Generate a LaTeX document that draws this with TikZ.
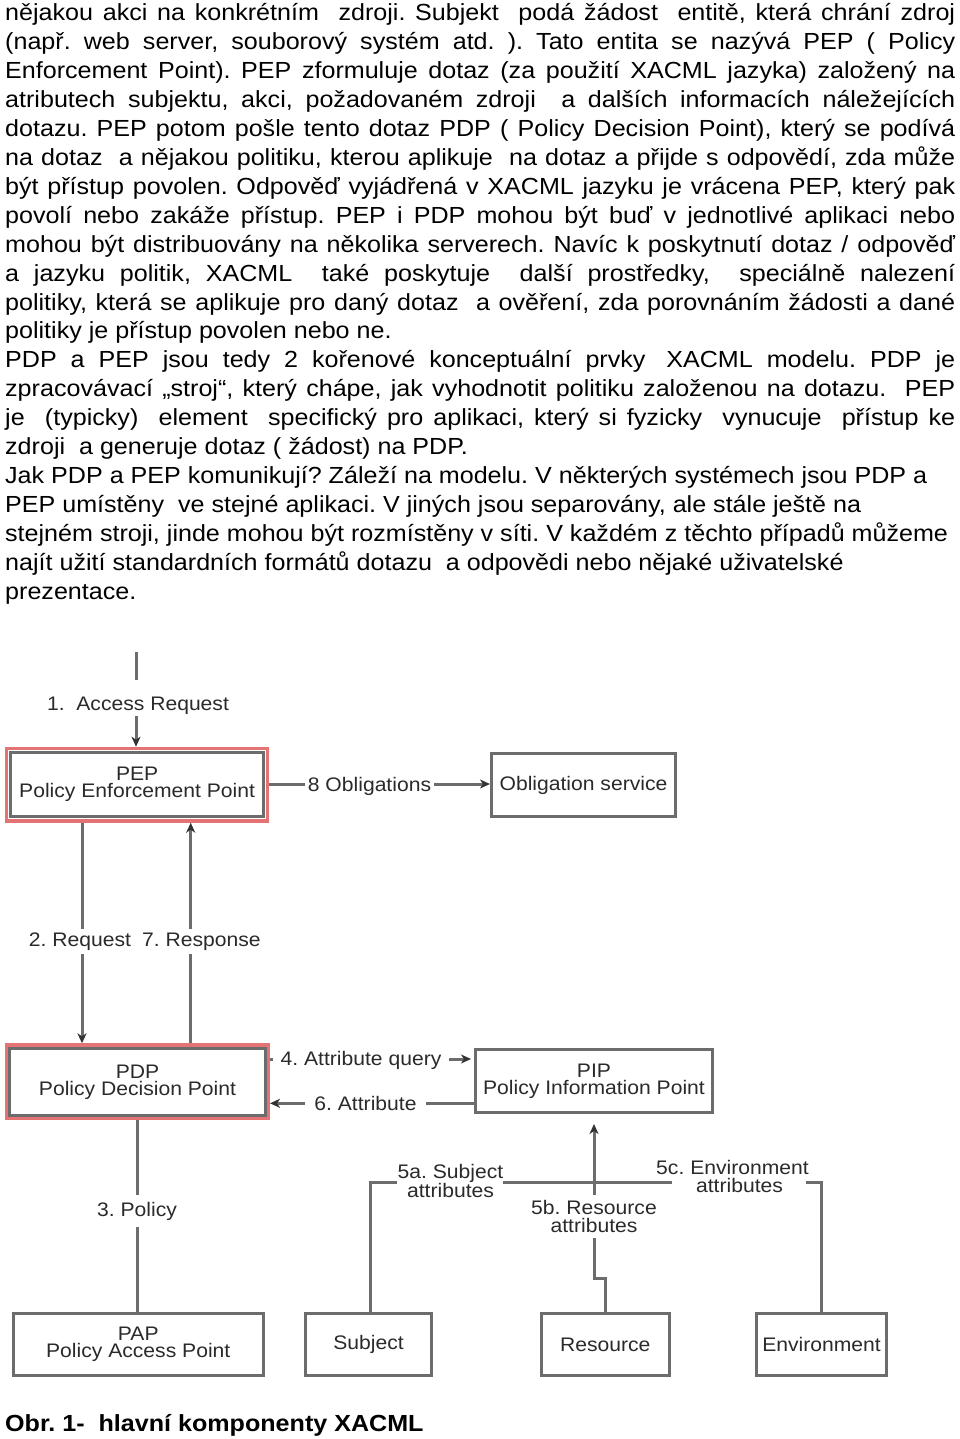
\documentclass[tikz,border=0pt]{standalone}
\usepackage{fontspec}
\setmainfont{Liberation Sans}[FakeStretch=1.077]
\usetikzlibrary{arrows.meta}
\definecolor{redframe}{HTML}{E57373}
\definecolor{boxgray}{HTML}{6C6C6C}
\definecolor{lblgray}{HTML}{2A2A2A}
\frenchspacing
\tikzset{
  para/.style={anchor=base west, inner sep=0pt, font=\fontsize{23.3}{28.95}\selectfont},
  box/.style={draw=boxgray, line width=3pt, fill=white, align=center, text=lblgray,
    font=\fontsize{19.6}{17}\selectfont, inner sep=0pt, minimum height=63},
  outerred/.style={draw=redframe, line width=3.3pt, inner sep=0pt},
  ln/.style={draw=boxgray, line width=3pt},
  arr/.style={ln, -{Stealth[length=10pt,width=9pt,inset=3pt,color=black!80]}},
  lbl/.style={fill=white, text=lblgray, font=\fontsize{19.6}{18}\selectfont, anchor=base,
    inner ysep=3pt, inner xsep=2pt},
  mlbl/.style={text=lblgray, font=\fontsize{19.6}{18}\selectfont, align=center, inner sep=0pt},
}
\begin{document}
\begin{tikzpicture}[x=1pt,y=-1pt]
\fill[white] (0,0) rectangle (960,1439);
\useasboundingbox (0,0) rectangle (960,1439);

% ---------- paragraph text ----------
\node[para] (l1) at (5,20.5) {\makebox[950pt][s]{nějakou akci na konkrétním\ \ zdroji. Subjekt\ \ podá žádost\ \ entitě, která chrání zdroj}};
\node[para] (l2) at (5,49.45) {\makebox[950pt][s]{(např. web server, souborový systém atd. ). Tato entita se nazývá PEP ( Policy}};
\node[para] (l3) at (5,78.4) {\makebox[950pt][s]{Enforcement Point). PEP zformuluje dotaz (za použití XACML jazyka) založený na}};
\node[para] (l4) at (5,107.35) {\makebox[950pt][s]{atributech subjektu, akci, požadovaném zdroji\ \ a dalších informacích náležejících}};
\node[para] (l5) at (5,136.3) {\makebox[950pt][s]{dotazu. PEP potom pošle tento dotaz PDP ( Policy Decision Point), který se podívá}};
\node[para] (l6) at (5,165.25) {\makebox[950pt][s]{na dotaz\ \ a nějakou politiku, kterou aplikuje\ \ na dotaz a přijde s odpovědí, zda může}};
\node[para] (l7) at (5,194.2) {\makebox[950pt][s]{být přístup povolen. Odpověď vyjádřená v XACML jazyku je vrácena PEP, který pak}};
\node[para] (l8) at (5,223.15) {\makebox[950pt][s]{povolí nebo zakáže přístup. PEP i PDP mohou být buď v jednotlivé aplikaci nebo}};
\node[para] (l9) at (5,252.1) {\makebox[950pt][s]{mohou být distribuovány na několika serverech. Navíc k poskytnutí dotaz / odpověď}};
\node[para] (l10) at (5,281.05) {\makebox[950pt][s]{a jazyku politik, XACML\ \ také poskytuje\ \ další prostředky,\ \ speciálně nalezení}};
\node[para] (l11) at (5,310) {\makebox[950pt][s]{politiky, která se aplikuje pro daný dotaz\ \ a ověření, zda porovnáním žádosti a dané}};
\node[para] (l12) at (5,338.95) {politiky je přístup povolen nebo ne.};
\node[para] (l13) at (5,367.9) {\makebox[950pt][s]{PDP\ \ a\ \ PEP\ \ jsou\ \ tedy\ \ 2\ \ kořenové\ \ konceptuální\ \ prvky\ \ \ XACML\ \ modelu.\ \ PDP\ \ je}};
\node[para] (l14) at (5,396.85) {\makebox[950pt][s]{zpracovávací „stroj“, který chápe, jak vyhodnotit politiku založenou na dotazu.\ \ PEP}};
\node[para] (l15) at (5,425.8) {\makebox[950pt][s]{je\ \ (typicky)\ \ element\ \ specifický pro aplikaci, který si fyzicky\ \ vynucuje\ \ přístup ke}};
\node[para] (l16) at (5,454.75) {zdroji\ \ a generuje dotaz ( žádost) na PDP.};
\node[para] (l17) at (5,483.7) {Jak PDP a PEP komunikují? Záleží na modelu. V některých systémech jsou PDP a};
\node[para] (l18) at (5,512.65) {PEP umístěny\ \ ve stejné aplikaci. V jiných jsou separovány, ale stále ještě na};
\node[para] (l19) at (5,541.6) {stejném stroji, jinde mohou být rozmístěny v síti. V každém z těchto případů můžeme};
\node[para] (l20) at (5,570.55) {najít užití standardních formátů dotazu\ \ a odpovědi nebo nějaké uživatelské};
\node[para] (l21) at (5,599.5) {prezentace.};

% ---------- boxes ----------
\node[outerred, minimum width=261, minimum height=72.7] (pepout) at (137.15,784.7) {};
\node[box, minimum width=252.7, minimum height=64.3] (pep) at (137.15,784.65) {PEP\\Policy Enforcement Point};
\node[box, minimum width=184, minimum height=63] (obl) at (583.5,785) {Obligation service};
\node[outerred, minimum width=261.7, minimum height=73.4] (pdpout) at (137.5,1081.65) {};
\node[box, minimum width=255.4, minimum height=67] (pdp) at (137.5,1082.3) {PDP\\Policy Decision Point};
\node[box, minimum width=237, minimum height=63] (pip) at (594,1081) {PIP\\Policy Information Point};
\node[box, minimum width=249.5, minimum height=62] (pap) at (138.25,1344.5) {PAP\\Policy Access Point};
\node[box, minimum width=126, minimum height=62] (subj) at (368.5,1344.5) {Subject};
\node[box, minimum width=127.5, minimum height=62] (res) at (605.25,1344.5) {Resource};
\node[box, minimum width=130, minimum height=62] (env) at (821.5,1344.5) {Environment};

% ---------- helper coordinates ----------
\coordinate (acctop) at (136,652);
\coordinate (oby) at (0,784);
\coordinate (rqx) at (82,0);
\coordinate (rsx) at (190.7,0);
\coordinate (q4y) at (0,1059);
\coordinate (a6y) at (0,1103.3);
\coordinate (polx) at (137.3,0);
\coordinate (busy) at (0,1182.5);
\coordinate (subx) at (370.3,0);
\coordinate (a5L) at (397,1182.5);
\coordinate (a5R) at (503,1182.5);
\coordinate (c5L) at (672,1182.5);
\coordinate (c5R) at (806,1182.5);
\coordinate (b5T) at (594,1195);
\coordinate (b5B) at (594,1238);
\coordinate (b5J) at (594,1278);

% ---------- connectors ----------
\draw[arr] (acctop) -- (acctop |- pepout.north);
\draw[arr] (pepout.east |- oby) -- (obl.west |- oby);
\draw[arr] (pepout.south -| rqx) -- (pdpout.north -| rqx);
\draw[arr] (pdpout.north -| rsx) -- (pepout.south -| rsx);
\draw[arr, shorten >=3pt] (pdpout.east |- q4y) -- (pip.west |- q4y);
\draw[arr] (pip.west |- a6y) -- (pdpout.east |- a6y);
\draw[ln] (pdpout.south -| polx) -- (pap.north -| polx);

\draw[ln] (subj.north -| subx) -- (subx |- busy) -- (a5L);
\draw[ln] (a5R) -- (c5L);
\draw[ln] (c5R) -- (c5R -| env.north) -- (env.north);
\draw[arr, shorten >=10pt] (pip.south |- busy) -- (pip.south);
\draw[ln] (pip.south |- busy) -- (b5T);
\draw[ln] (b5B) -- (b5J) -- (b5J -| res.north) -- (res.north);

% ---------- labels ----------
\node[lbl, text height=29pt, text depth=5pt, inner ysep=1pt] (acc) at (138,710.3) {1.\ \ Access Request};
\node[lbl, inner xsep=2.5pt] (oblab) at (369.5,791.5) {8 Obligations};
\node[lbl, inner ysep=3.7pt] (req) at (80,946.2) {2. Request};
\node[lbl, inner ysep=3.7pt] (rsp) at (201.5,946.2) {7. Response};
\node[lbl, inner xsep=7.5pt] (q4) at (361,1065) {4. Attribute query};
\node[lbl, inner xsep=9.5pt] (a6) at (365.5,1110) {6. Attribute};
\node[lbl, inner ysep=6.7pt] (pol) at (137,1216.3) {3. Policy};
\node[mlbl] (l5a) at (450.5,1181.2) {5a. Subject\\attributes};
\node[mlbl] (l5b) at (594,1216.2) {5b. Resource\\attributes};
\node[mlbl] (l5c) at (732.5,1176.2) {5c. Environment\\\hspace*{14pt}attributes};

% ---------- caption ----------
\node[anchor=base west, inner sep=0pt, font=\bfseries\fontsize{23.3}{28}\selectfont] (cap) at (5,1431.3) {Obr. 1-\ \ hlavní komponenty XACML};
\end{tikzpicture}
\end{document}
